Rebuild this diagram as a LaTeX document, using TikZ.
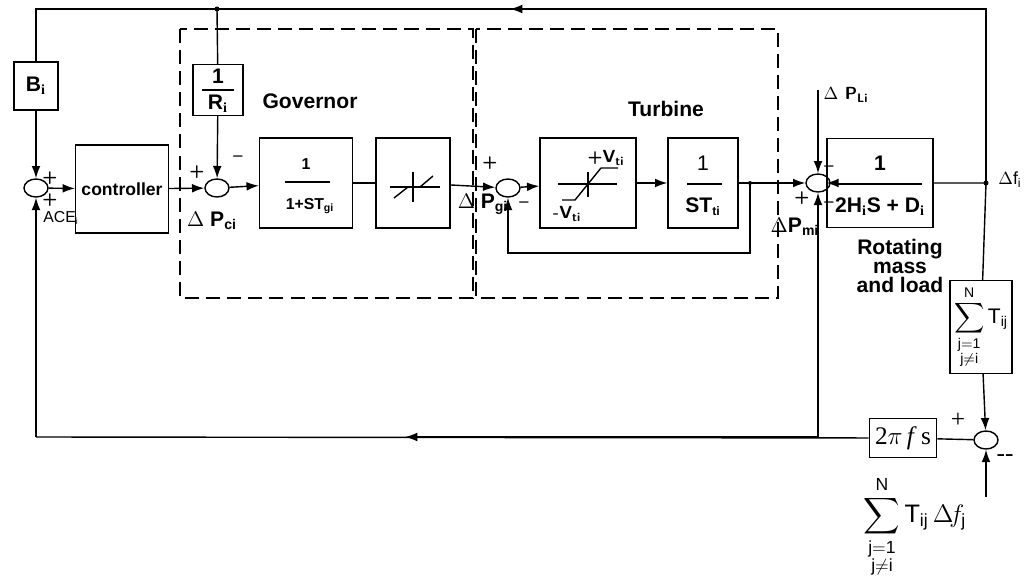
\documentclass[tikz,border=0pt]{standalone}
\usepackage{amsmath}
\usepackage{fontspec}
\setmainfont{Liberation Sans}
\newfontfamily\serf{Liberation Serif}
\usetikzlibrary{arrows.meta,shapes.geometric}
\begin{document}
\begin{tikzpicture}[x=0.02cm,y=-0.02cm,
  sm/.style={draw,thick,ellipse,minimum width=24*0.02cm,minimum height=18*0.02cm,inner sep=0},
  ln/.style={thick},
  ar/.style={thick,-{Latex[length=7pt,width=5pt]}},
  dsh/.style={thick,dash pattern=on 8pt off 4pt},
  lb/.style={font=\bfseries\sffamily}]
\useasboundingbox (0,0) rectangle (1024,578);
% boxes
\node[draw,thick,minimum width=44*0.02cm,minimum height=48*0.02cm] (B) at (36,86) {\bfseries\large B\textsubscript{\serf\bfseries i}};
\node[draw,thick,minimum width=85*0.02cm,minimum height=88*0.02cm] (C) at (122,189) {\bfseries controller};
\node[draw,thick,minimum width=50*0.02cm,minimum height=51*0.02cm] (R) at (218,90) {};
\node[lb,font=\bfseries\large] at (218,76) {1};
\draw[ln] (202,90) -- (234,90);
\node[lb,font=\bfseries\large] at (218,104) {R\textsubscript{\serf\bfseries i}};
\node[draw,thick,minimum width=93*0.02cm,minimum height=90*0.02cm] (G) at (306,183) {};
\node[draw,thick,minimum width=74*0.02cm,minimum height=90*0.02cm] (D) at (413,183) {};
\node[draw,thick,minimum width=96*0.02cm,minimum height=90*0.02cm] (L) at (588,183) {};
\node[draw,thick,minimum width=70*0.02cm,minimum height=90*0.02cm] (T) at (703,183) {};
\node[draw,thick,minimum width=106*0.02cm,minimum height=89*0.02cm] (M) at (880,183) {};
\node[draw,thick,minimum width=62*0.02cm,minimum height=93*0.02cm] (S) at (981,327) {};
\node[draw,thick,minimum width=62*0.02cm,minimum height=39*0.02cm] (P) at (903,438) {\serf\Large 2$\pi$\,\textit{f}\,s};
% box contents
\node[lb,font=\bfseries\small] at (306,164) {1};
\draw[ln] (285,182) -- (330,182);
\node[lb,font=\bfseries\small] at (310,206) {1+ST\textsubscript{gi}};
\draw[ln] (390,187) -- (440,187); \draw[ln] (394,198) -- (408,187) -- (420,187) -- (433,176); \draw[ln] (413,172) -- (413,202);
\draw[ln] (558,184) -- (617,184); \draw[ln] (562,200) -- (575,200) -- (601,168) -- (618,168); \draw[ln] (588,172) -- (588,197);
\node[lb] at (606,158) {+V\textsubscript{\scriptsize ti}};
\node[lb] at (567,214) {-V\textsubscript{\scriptsize ti}};
\node[font=\large] at (703,163) {1}; \draw[ln] (687,184) -- (722,184); \node[lb,font=\bfseries\large] at (703,207) {ST\textsubscript{\scriptsize ti}};
\node[lb,font=\bfseries\large] at (880,163) {1}; \draw[ln] (838,184) -- (922,184); \node[lb,font=\bfseries\large] at (880,207) {2H\textsubscript{\serf\bfseries i}S + D\textsubscript{\serf\bfseries i}};
\node[font=\serf\large] at (981,327) {$\displaystyle\sum_{\substack{\mathrm{j=1}\\ \mathrm{j\neq i}}}^{\mathrm{N}}\mathrm{T_{ij}}$};
\node[font=\serf\Large] (Sext) at (915,527) {$\displaystyle\sum_{\substack{\mathrm{j=1}\\ \mathrm{j\neq i}}}^{\mathrm{N}}\mathrm{T_{ij}}\,\Delta\! f_{\mathrm{j}}$};
% sums
\node[sm] (s1) at (36,188) {};
\node[sm] (s2) at (217,188) {};
\node[sm] (s3) at (508,188) {};
\node[sm] (s4) at (818,183) {};
\node[sm] (s5) at (986,440) {};
% dashed
\draw[dsh] (180,29) rectangle (473,298);
\draw[dsh] (476,29) rectangle (778,298);
% coordinates
\coordinate (tr) at (986,9); \coordinate (tl) at (36,9); \coordinate (td) at (217,9);
\coordinate (df) at (986,183); \coordinate (fb) at (750,183);
\coordinate (bl) at (36,437); \coordinate (bj) at (818,437);
\coordinate (pl) at (818,90); \coordinate (s5in) at (986,497);
% connections
\draw[ln] (df) -- (tr) -- (tl) -- (B);
\draw[ar] (tr) -- (510,9);
\fill (td) circle (2.5); \fill (df) circle (2.5); \fill (fb) circle (2);
\draw[ar] (B) -- (s1);
\draw[ar] (s1) -- (C);
\draw[ar] (C) -- (s2);
\draw[ln] (td) -- (R); \draw[ar] (R) -- (s2);
\draw[ar] (s2) -- (G);
\draw[ln] (G) -- (D);
\draw[ar] (D) -- (s3);
\draw[ar] (s3) -- (L);
\draw[ar] (L) -- (T);
\draw[ar] (T) -- (s4);
\draw[ar] (fb) -- (750,253) -- (508,253) -- (s3);
\draw[ar] (pl) -- (s4);
\draw[ar] (s4) -- (M);
\draw[ln] (M) -- (df) -- (S);
\draw[ar] (S) -- (s5);
\draw[ar] (s5in) -- (s5);
\draw[ln] (s5) -- (P);
\draw[ln] (P) -- (bl);
\draw[ar] (bj) -- (405,437);
\draw[ar] (bj) -- (s4);
\draw[ar] (bl) -- (s1);
% labels
\node[lb,font=\bfseries\large] at (310,101) {Governor};
\node[lb,font=\bfseries\large] at (666,109) {Turbine};
\node[lb,font=\bfseries\large,align=center,inner sep=0] at (900,266) {Rotating\\[-3pt]mass\\[-3pt]and load};
\node[lb] at (50,178) {+}; \node[lb] at (50,200) {+};
\node[font=\small] at (61,218) {ACE\textsubscript{\tiny i}};
\node[lb] at (197,172) {+}; \node[lb] at (238,159) {--};
\node[lb,font=\bfseries\large] at (212,221) {$\Delta$ P\textsubscript{ci}};
\node[lb,font=\bfseries\large] at (483,204) {$\Delta$ P\textsubscript{gi}};
\node[lb] at (490,163) {+}; \node[lb] at (524,205) {--};
\node[lb] at (802,198) {+}; \node[lb] at (829,169) {--}; \node[lb] at (829,205) {--};
\node[lb,font=\bfseries\large] at (795,227) {$\Delta$P\textsubscript{mi}};
\node[lb] at (846,95) {$\Delta$ P\textsubscript{\scriptsize Li}};
\node[font=\serf] at (1010,180) {$\Delta\mathrm{f_i}$};
\node[font=\serf\Large] at (958,420) {+}; \node[font=\serf\Large] at (1005,458) {--};
\end{tikzpicture}
\end{document}
